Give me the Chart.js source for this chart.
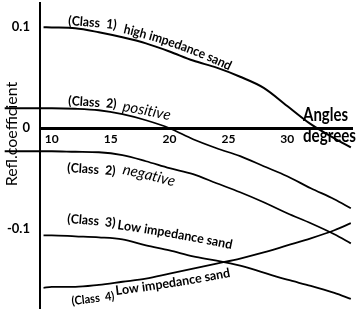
<!DOCTYPE html>
<html>
<head>
<meta charset="utf-8">
<script src="https://cdn.jsdelivr.net/npm/chart.js@4.4.0/dist/chart.umd.min.js"></script>
<style>
  html, body { margin: 0; padding: 0; background: #fff; }
  #wrap { width: 360px; height: 312px; }
</style>
</head>
<body>
<div id="wrap"><canvas id="chart-avo"></canvas></div>
<script>
// incidence angle in degrees, reflection coefficient per AVO class
const angles    = [6, 9.3, 10, 12, 14, 16, 18, 20, 22, 24, 26, 28, 30, 32, 34, 35.4];
const class1    = [null, 0.100, 0.0998, 0.099, 0.095, 0.090, 0.084, 0.076, 0.067, 0.060, 0.051, 0.040, 0.022, 0.004, -0.010, -0.019];
const class2pos = [0.0198, 0.0198, 0.0198, 0.0193, 0.0178, 0.0139, 0.0079, 0, -0.0109, -0.0198, -0.0277, -0.0376, -0.0475, -0.0594, -0.0703, -0.0792];
const class2neg = [-0.0228, -0.0228, -0.0228, -0.0233, -0.0238, -0.0267, -0.0327, -0.0396, -0.0455, -0.0545, -0.0634, -0.0733, -0.0842, -0.0941, -0.105, -0.114];
const class3    = [null, -0.106, -0.106, -0.107, -0.108, -0.110, -0.116, -0.121, -0.127, -0.131, -0.136, -0.143, -0.150, -0.156, -0.163, -0.169];
const class4    = [null, -0.158, -0.157, -0.157, -0.155, -0.152, -0.149, -0.144, -0.139, -0.134, -0.129, -0.123, -0.116, -0.109, -0.101, -0.094];

const xTicks = [10, 15, 20, 25, 30];
const yTicks = [-0.1, 0, 0.1];

const xMin = 9, xMax = 35.5;
const yMin = -0.178, yMax = 0.124;

// labels written along the curves (sx = horizontal squeeze)
const curveLabels = [
  { text: '(Class  1)', x: 68, y: 25, a0: 3, a1: 7, font: 'bold 13px Lato', sx: 0.95 },
  { text: 'high impedance sand', x: 123, y: 33, a0: 13, a1: 26, font: 'bold 13px Lato', sx: 0.93 },
  { text: '(Class  2)', x: 68, y: 105, a0: 3, a1: 5, font: 'bold 13px Lato', sx: 0.95 },
  { text: 'positive', x: 122, y: 111, a0: 9, a1: 13, font: 'italic 15px Lato', sx: 1 },
  { text: '(Class  2)', x: 67, y: 172, a0: 3, a1: 5, font: 'bold 13px Lato', sx: 0.95 },
  { text: 'negative', x: 122, y: 174, a0: 11, a1: 16, font: 'italic 15px Lato', sx: 1 },
  { text: '(Class  3)', x: 67, y: 223, a0: 4, a1: 6, font: 'bold 13px Lato', sx: 0.95 },
  { text: 'Low impedance sand', x: 117, y: 229, a0: 8, a1: 12, font: 'bold 13px Lato', sx: 0.96 },
  { text: '(Class  4)', x: 72, y: 305, a0: -6, a1: -8, font: 'bold 12px Lato', sx: 0.92 },
  { text: 'Low impedance sand', x: 116, y: 295, a0: -7, a1: -11, font: 'bold 13px Lato', sx: 0.96 },
];

function toPoints(values) {
  return angles.map((a, i) => ({ x: a, y: values[i] }));
}

function curvedText(ctx, text, x, y, a0, a1, sx) {
  const total = ctx.measureText(text).width * sx;
  let done = 0;
  for (const ch of text) {
    const w = ctx.measureText(ch).width * sx;
    const a = (a0 + (a1 - a0) * (done + w / 2) / total) * Math.PI / 180;
    ctx.save();
    ctx.translate(x, y);
    ctx.rotate(a);
    ctx.scale(sx, 1);
    ctx.fillText(ch, 0, 0);
    ctx.restore();
    x += w * Math.cos(a);
    y += w * Math.sin(a);
    done += w;
  }
}

const textPlugin = {
  id: 'avoText',
  afterDraw(chart) {
    const ctx = chart.ctx;
    ctx.save();
    ctx.fillStyle = '#000';
    ctx.textBaseline = 'alphabetic';
    ctx.textAlign = 'left';
    curveLabels.forEach(l => {
      ctx.font = l.font;
      curvedText(ctx, l.text, l.x, l.y, l.a0, l.a1, l.sx);
    });
    ctx.font = 'bold 18px Lato';
    ctx.fillText('Angles', 303, 121, 45);
    ctx.fillText('degrees', 303, 142, 53);
    ctx.font = '16px Lato';
    ctx.translate(17, 134);
    ctx.rotate(-Math.PI / 2);
    ctx.textAlign = 'center';
    ctx.fillText('Refl.coefficient', 0, 0);
    ctx.restore();
  }
};

const curve = (values, width) => ({
  data: toPoints(values),
  borderColor: '#000',
  borderWidth: width,
  pointRadius: 0,
  fill: false,
  clip: false,
  cubicInterpolationMode: 'monotone',
});

new Chart(document.getElementById('chart-avo'), {
  type: 'line',
  data: {
    datasets: [
      curve(class1, 2),
      curve(class2pos, 1.8),
      curve(class2neg, 1.8),
      curve(class3, 1.8),
      curve(class4, 1.8),
    ],
  },
  options: {
    responsive: true,
    maintainAspectRatio: false,
    animation: false,
    layout: { padding: { left: 0, right: 8, top: 3, bottom: 4 } },
    plugins: {
      legend: { display: false },
      tooltip: { enabled: false },
    },
    scales: {
      x: {
        type: 'linear',
        min: xMin,
        max: xMax,
        position: { y: 0 },
        grid: { display: false, drawTicks: false },
        border: { display: true, color: '#000', width: 3 },
        afterBuildTicks: s => { s.ticks = xTicks.map(v => ({ value: v })); },
        ticks: {
          color: '#000',
          padding: 4,
          maxRotation: 0,
          font: { family: 'Lato', size: 12, weight: 'bold' },
          callback: v => String(v),
        },
      },
      y: {
        type: 'linear',
        min: yMin,
        max: yMax,
        position: 'left',
        grid: { display: false, drawTicks: false },
        border: { display: true, color: '#000', width: 2 },
        afterBuildTicks: s => { s.ticks = yTicks.map(v => ({ value: v })); },
        afterFit: s => { s.width = 40; s.paddingTop = 0; s.paddingBottom = 0; },
        ticks: {
          color: '#000',
          padding: 10,
          font: { family: 'Lato', size: 13, weight: 'bold' },
          callback: v => String(v),
        },
      },
    },
  },
  plugins: [textPlugin],
});
</script>
</body>
</html>
